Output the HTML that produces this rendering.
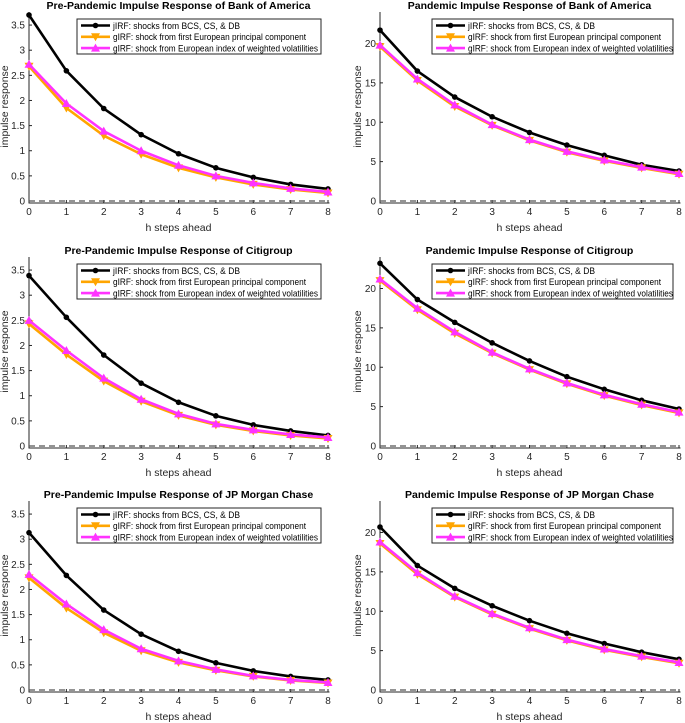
<!DOCTYPE html>
<html><head><meta charset="utf-8"><style>
body{margin:0;background:#fff;}
svg{display:block;font-family:"Liberation Sans",Arial,sans-serif;}
</style></head><body>
<svg id="fig" width="685" height="723" viewBox="0 0 685 723"></svg>
<script>
const steps=[0,1,2,3,4,5,6,7,8];
const titles=["Pre-Pandemic Impulse Response of Bank of America","Pandemic Impulse Response of Bank of America","Pre-Pandemic Impulse Response of Citigroup","Pandemic Impulse Response of Citigroup","Pre-Pandemic Impulse Response of JP Morgan Chase","Pandemic Impulse Response of JP Morgan Chase"];
const jirf1=[3.70,2.59,1.84,1.32,0.94,0.66,0.47,0.33,0.24];
const pc1=[2.68,1.85,1.30,0.93,0.66,0.47,0.33,0.23,0.16];
const vol1=[2.72,1.94,1.39,1.00,0.71,0.50,0.36,0.25,0.18];
const jirf2=[21.7,16.5,13.2,10.7,8.7,7.1,5.8,4.6,3.8];
const pc2=[19.6,15.3,12.0,9.6,7.7,6.2,5.1,4.2,3.4];
const vol2=[19.8,15.5,12.2,9.7,7.8,6.3,5.2,4.3,3.5];
const jirf3=[3.39,2.56,1.81,1.25,0.87,0.60,0.42,0.30,0.21];
const pc3=[2.43,1.82,1.29,0.89,0.61,0.42,0.30,0.21,0.15];
const vol3=[2.50,1.90,1.35,0.93,0.64,0.44,0.32,0.23,0.17];
const jirf4=[23.2,18.6,15.7,13.1,10.8,8.8,7.2,5.8,4.7];
const pc4=[21.0,17.3,14.3,11.8,9.7,7.9,6.4,5.2,4.2];
const vol4=[21.2,17.5,14.5,11.9,9.8,8.0,6.5,5.3,4.3];
const jirf5=[3.13,2.28,1.59,1.11,0.77,0.54,0.38,0.27,0.20];
const pc5=[2.23,1.63,1.14,0.78,0.55,0.39,0.27,0.19,0.14];
const vol5=[2.30,1.71,1.20,0.82,0.58,0.41,0.28,0.20,0.15];
const jirf6=[20.7,15.8,12.9,10.7,8.8,7.2,5.9,4.8,3.9];
const pc6=[18.6,14.7,11.8,9.6,7.8,6.3,5.1,4.2,3.4];
const vol6=[18.8,14.9,11.9,9.7,7.9,6.4,5.2,4.3,3.5];
const preTicks=[0,0.5,1,1.5,2,2.5,3,3.5];
const pandTicks=[0,5,10,15,20];
const legendLabels=["jIRF: shocks from BCS, CS, & DB","gIRF: shock from first European principal component","gIRF: shock from European index of weighted volatilities"];
const panels=[[jirf1,pc1,vol1],[jirf2,pc2,vol2],[jirf3,pc3,vol3],[jirf4,pc4,vol4],[jirf5,pc5,vol5],[jirf6,pc6,vol6]];

const NS="http://www.w3.org/2000/svg";
const svg=document.getElementById('fig');
function mk(tag,attrs,parent,text){const e=document.createElementNS(NS,tag);for(const k in attrs)e.setAttribute(k,attrs[k]);if(text!==undefined)e.textContent=text;(parent||svg).appendChild(e);return e;}
const colors=["#000000","#FFA500","#FF33FF"];
const legendLen=[127,193,205];
function marker(g,kind,x,y,c){
  let m;
  if(kind===0){m=mk('circle',{cx:x,cy:y,r:2.8,fill:c},g);}
  else if(kind===1){m=mk('polygon',{points:`${x-4.5},${y-3.5} ${x+4.5},${y-3.5} ${x},${y+4.5}`,fill:c},g);}
  else {m=mk('polygon',{points:`${x-4.5},${y+3.5} ${x+4.5},${y+3.5} ${x},${y-4.5}`,fill:c},g);}
  
  
}
panels.forEach((series,i)=>{
  const col=i%2,row=Math.floor(i/2);
  const pre=col===0;
  const titleY=[5,250,494][row];
  const x0=pre?29:380, x1=pre?328:679;
  const top=titleY+7, zero=titleY+196;
  const ymax=pre?3.76:24;
  const ppu=(zero-top)/ymax;
  const bottom=zero+2;
  const X=v=>x0+(x1-x0)*v/8;
  const Y=v=>zero-v*ppu;
  const g=mk('g',{});
  
  
  const t=mk('text',{x:(x0+x1)/2,y:titleY+4,'text-anchor':'middle','font-size':'10.5','font-weight':'bold'},g,titles[i]);
  
  
  const ax=mk('path',{d:`M${x0},${top} L${x0},${bottom} L${x1+1.5},${bottom}`,stroke:'#262626',fill:'none','stroke-width':'1'},g);
  
  
  const ticks=pre?preTicks:pandTicks;
  ticks.forEach(v=>{
    mk('line',{x1:x0,x2:x0+3,y1:Y(v),y2:Y(v),stroke:'#262626'},g);
    const tl=mk('text',{x:x0-4,y:Y(v)+3.5,'text-anchor':'end','font-size':'10',fill:'#262626'},g,String(v));
    
    
  });
  steps.forEach(s=>{
    mk('line',{x1:X(s),x2:X(s),y1:bottom,y2:bottom-3,stroke:'#262626'},g);
    const tl=mk('text',{x:X(s),y:bottom+12,'text-anchor':'middle','font-size':'10',fill:'#262626'},g,String(s));
    
    
  });
  const xl=mk('text',{x:(x0+x1)/2,y:bottom+28,'text-anchor':'middle','font-size':'10.5',fill:'#262626'},g,'h steps ahead');
  
  
  const ylx=pre?8:361, yly=(top+zero)/2;
  const yl=mk('text',{x:ylx,y:yly,'text-anchor':'middle','font-size':'10.5',fill:'#262626',transform:`rotate(-90 ${ylx} ${yly})`},g,'impulse response');
  
  
  const z=mk('line',{x1:x0,x2:x1,y1:Y(0),y2:Y(0),stroke:'#555','stroke-dasharray':'6,4','stroke-width':'1.2'},g);
  
  
  [0,1,2].forEach(k=>{
    const d=series[k].map((v,j)=>(j?'L':'M')+X(steps[j])+','+Y(v)).join(' ');
    const p=mk('path',{d:d,stroke:colors[k],fill:'none','stroke-width':'2.6','stroke-linejoin':'round'},g);
    
    
    series[k].forEach((v,j)=>marker(g,k,X(steps[j]),Y(v),colors[k]));
  });
  const lx0=pre?77:432, lx1=pre?321:673, ly0=titleY+14;
  const lg=mk('g',{},g);
  
  
  mk('rect',{x:lx0,y:ly0,width:lx1-lx0,height:35,fill:'#fff',stroke:'#262626','stroke-width':'1'},lg);
  legendLabels.forEach((lab,k)=>{
    const yy=ly0+6.5+k*11.3;
    mk('line',{x1:lx0+4,x2:lx0+33,y1:yy,y2:yy,stroke:colors[k],'stroke-width':'2.6'},lg);
    marker(lg,k,lx0+18.5,yy,colors[k]);
    const tt=mk('text',{x:lx0+36,y:yy+3.3,'font-size':'9.3',fill:'#000',textLength:legendLen[k],lengthAdjust:'spacingAndGlyphs'},lg,lab);
    
    
  });
});
</script>
</body></html>
